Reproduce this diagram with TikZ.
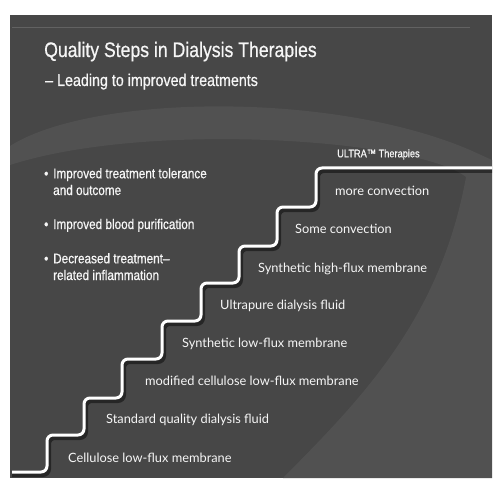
\documentclass[tikz,border=0pt]{standalone}
\usepackage{fontspec}
\setmainfont[FakeStretch=0.84,FakeBold=0.6]{Liberation Sans}
\newfontfamily\handfont{Lato}
\definecolor{slidebg}{HTML}{474747}
\definecolor{bandbg}{HTML}{515151}
\definecolor{inkw}{HTML}{F6F6F6}
\begin{document}
\begin{tikzpicture}[x=1pt,y=-1pt,
  titletext/.style={anchor=base west, inner sep=0pt, text=inkw, font=\fontsize{21}{24}\selectfont},
  subtext/.style={anchor=base west, inner sep=0pt, text=inkw, font=\fontsize{17}{20}\selectfont},
  bullettext/.style={anchor=base west, inner sep=0pt, text=inkw, font=\fontsize{14}{17}\selectfont},
  ultratext/.style={anchor=base west, inner sep=0pt, text=inkw, font=\fontsize{11}{13}\selectfont},
  handlabel/.style={anchor=base west, inner sep=0pt, text=inkw, font=\handfont\fontsize{12.8}{15}\selectfont},
  stairline/.style={draw=white, line width=3pt, rounded corners=6pt},
  stairshadow/.style={draw=black, opacity=0.45, line width=4pt, rounded corners=6pt}
]
\useasboundingbox (0,0) rectangle (500,489);
\fill[white] (0,0) rectangle (500,489);
\fill[slidebg] (10,15) rectangle (492,478);
\begin{scope}
  \clip (10,15) rectangle (492,478);
  \fill[bandbg] (10,146) .. controls (90,95) and (330,90) .. (470,150)
    -- (492,160) -- (492,478) -- (283,478)
    .. controls (360,400) and (440,320) .. (466,177)
    .. controls (420,140) and (150,120) .. (10,165) -- cycle;
  \draw[white, opacity=0.15, line width=0.8pt] (12,27) -- (470,27);
\end{scope}

% staircase
\draw[stairshadow] (12,475) -- (49,475) -- (49,438) -- (86,438) -- (86,401) -- (124,401)
  -- (124,362) -- (164,362) -- (164,324) -- (203,324) -- (203,286) -- (241,286)
  -- (241,249) -- (279,249) -- (279,210) -- (318,210) -- (318,171) -- (492,171);
\draw[stairline] (12,472) -- (47,472) -- (47,435) -- (84,435) -- (84,398) -- (122,398)
  -- (122,359) -- (162,359) -- (162,321) -- (201,321) -- (201,283) -- (239,283)
  -- (239,246) -- (277,246) -- (277,207) -- (316,207) -- (316,168) -- (492,168);

% title
\node[titletext] (title) at (44,57) {Quality Steps in Dialysis Therapies};
\node[subtext] (subtitle) at (45,86) {– Leading to improved treatments};

% bullets
\node[bullettext] (b1) at (44,178.3) {•};
\node[bullettext] (t1a) at (53,178.3) {Improved treatment tolerance};
\node[bullettext] (t1b) at (53,195) {and outcome};
\node[bullettext] (b2) at (44,229) {•};
\node[bullettext] (t2) at (53,229) {Improved blood purification};
\node[bullettext] (b3) at (44,263.3) {•};
\node[bullettext] (t3a) at (53,263.3) {Decreased treatment–};
\node[bullettext] (t3b) at (53,280) {related inflammation};

% ULTRA
\node[ultratext] (ultra) at (337,157.3) {ULTRA™ Therapies};

% step labels
\node[handlabel] (s1) at (68,462) {Cellulose low-flux membrane};
\node[handlabel] (s2) at (106,423) {Standard quality dialysis fluid};
\node[handlabel] (s3) at (145,385) {modified cellulose low-flux membrane};
\node[handlabel] (s4) at (182,347) {Synthetic low-flux membrane};
\node[handlabel] (s5) at (220,309) {Ultrapure dialysis fluid};
\node[handlabel] (s6) at (258,272) {Synthetic high-flux membrane};
\node[handlabel] (s7) at (295,233) {Some convection};
\node[handlabel] (s8) at (335,195) {more convection};
\end{tikzpicture}
\end{document}
